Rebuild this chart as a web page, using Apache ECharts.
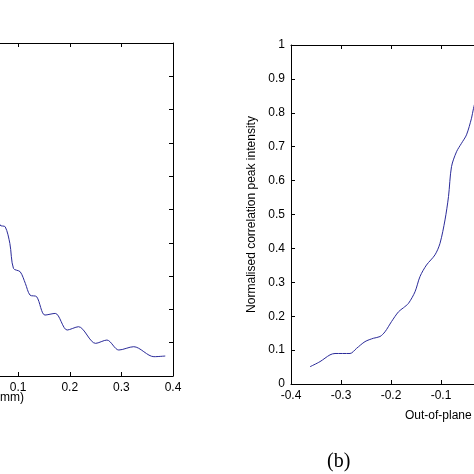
<!DOCTYPE html>
<html>
<head>
<meta charset="utf-8">
<script src="https://cdn.jsdelivr.net/npm/echarts@6/dist/echarts.min.js"></script>
<style>html,body{margin:0;padding:0;background:#fff}#main{width:474px;height:474px}</style>
</head>
<body>
<div id="main"></div>
<script>
// panel (a), only the right part is visible in the crop
var leftX = [0.03, 0.065, 0.075, 0.084, 0.091, 0.104, 0.114, 0.123, 0.136, 0.152, 0.172, 0.195, 0.217, 0.25, 0.272, 0.295, 0.324, 0.363, 0.385];
var leftY = [0.60, 0.453, 0.448, 0.398, 0.323, 0.313, 0.278, 0.243, 0.238, 0.183, 0.188, 0.138, 0.148, 0.098, 0.108, 0.078, 0.088, 0.058, 0.06];
// panel (b)
var rightX = [-0.362, -0.342, -0.322, -0.312, -0.282, -0.269, -0.252, -0.235, -0.222, -0.212, -0.199, -0.185, -0.175, -0.165, -0.152, -0.142, -0.129, -0.112, -0.102, -0.092, -0.085, -0.079, -0.069, -0.059, -0.049, -0.039, -0.035, -0.02];
var rightY = [0.051, 0.066, 0.086, 0.09, 0.09, 0.105, 0.125, 0.135, 0.14, 0.154, 0.184, 0.213, 0.225, 0.238, 0.272, 0.317, 0.351, 0.381, 0.415, 0.484, 0.553, 0.641, 0.685, 0.71, 0.735, 0.784, 0.813, 0.9];
var xTicks = [-0.4, 0.4, 0.1];
var yTicks = [0, 1, 0.1];

function pairs(xs, ys) {
  return xs.map(function (x, i) { return [x, ys[i]]; });
}
var txt = {color: '#000', fontFamily: 'Liberation Sans', fontSize: 12};
var lineStyle = {color: '#000', width: 1};

function xAx(grid, pos, labels, name) {
  return {
    type: 'value', gridIndex: grid, position: pos, min: xTicks[0], max: xTicks[1], interval: xTicks[2],
    axisLine: {show: true, onZero: false, lineStyle: lineStyle},
    axisTick: {show: true, inside: true, length: 4, lineStyle: lineStyle},
    axisLabel: {show: labels, color: '#000', fontFamily: 'Liberation Sans', fontSize: 12, margin: 6,
      formatter: function (v) { return +v.toFixed(1) + ''; }},
    splitLine: {show: false},
    name: name || '', nameLocation: 'middle', nameGap: 26, nameTextStyle: txt
  };
}
function yAx(grid, pos, labels, name) {
  return {
    type: 'value', gridIndex: grid, position: pos, min: yTicks[0], max: yTicks[1], interval: yTicks[2],
    axisLine: {show: true, onZero: false, lineStyle: lineStyle},
    axisTick: {show: true, inside: true, length: 4, lineStyle: lineStyle},
    axisLabel: {show: labels, color: '#000', fontFamily: 'Liberation Sans', fontSize: 12, margin: 6,
      formatter: function (v) { return +v.toFixed(1) + ''; }},
    splitLine: {show: false},
    name: name || '', nameLocation: 'middle', nameGap: 31, nameTextStyle: txt
  };
}

var chart = echarts.init(document.getElementById('main'));
chart.setOption({
  animation: false,
  backgroundColor: '#fff',
  grid: [
    {left: -240, width: 413, top: 43, height: 333, outerBoundsMode: 'none', containLabel: false},
    {left: 291, width: 400, top: 45, height: 339, outerBoundsMode: 'none', containLabel: false}
  ],
  xAxis: [
    xAx(0, 'bottom', true), xAx(0, 'top', false),
    xAx(1, 'bottom', true, 'Out-of-plane displacement (mm)'), xAx(1, 'top', false)
  ],
  yAxis: [
    yAx(0, 'left', false), yAx(0, 'right', false),
    yAx(1, 'left', true, 'Normalised correlation peak intensity'), yAx(1, 'right', false)
  ],
  graphic: [
    {type: 'text', left: 0, top: 392, style: {text: 'mm)', fill: '#000', font: '12px "Liberation Sans"'}},
    {type: 'text', left: 327, top: 452, style: {text: '(b)', fill: '#000', font: '20px "Liberation Serif"'}}
  ],
  series: [
    {type: 'line', xAxisIndex: 0, yAxisIndex: 0, data: pairs(leftX, leftY), smooth: 0.3,
      showSymbol: false, lineStyle: {color: '#2b2b99', width: 1}},
    {type: 'line', xAxisIndex: 2, yAxisIndex: 2, data: pairs(rightX, rightY), smooth: 0.3,
      showSymbol: false, lineStyle: {color: '#2b2b99', width: 1}}
  ]
});
</script>
</body>
</html>
